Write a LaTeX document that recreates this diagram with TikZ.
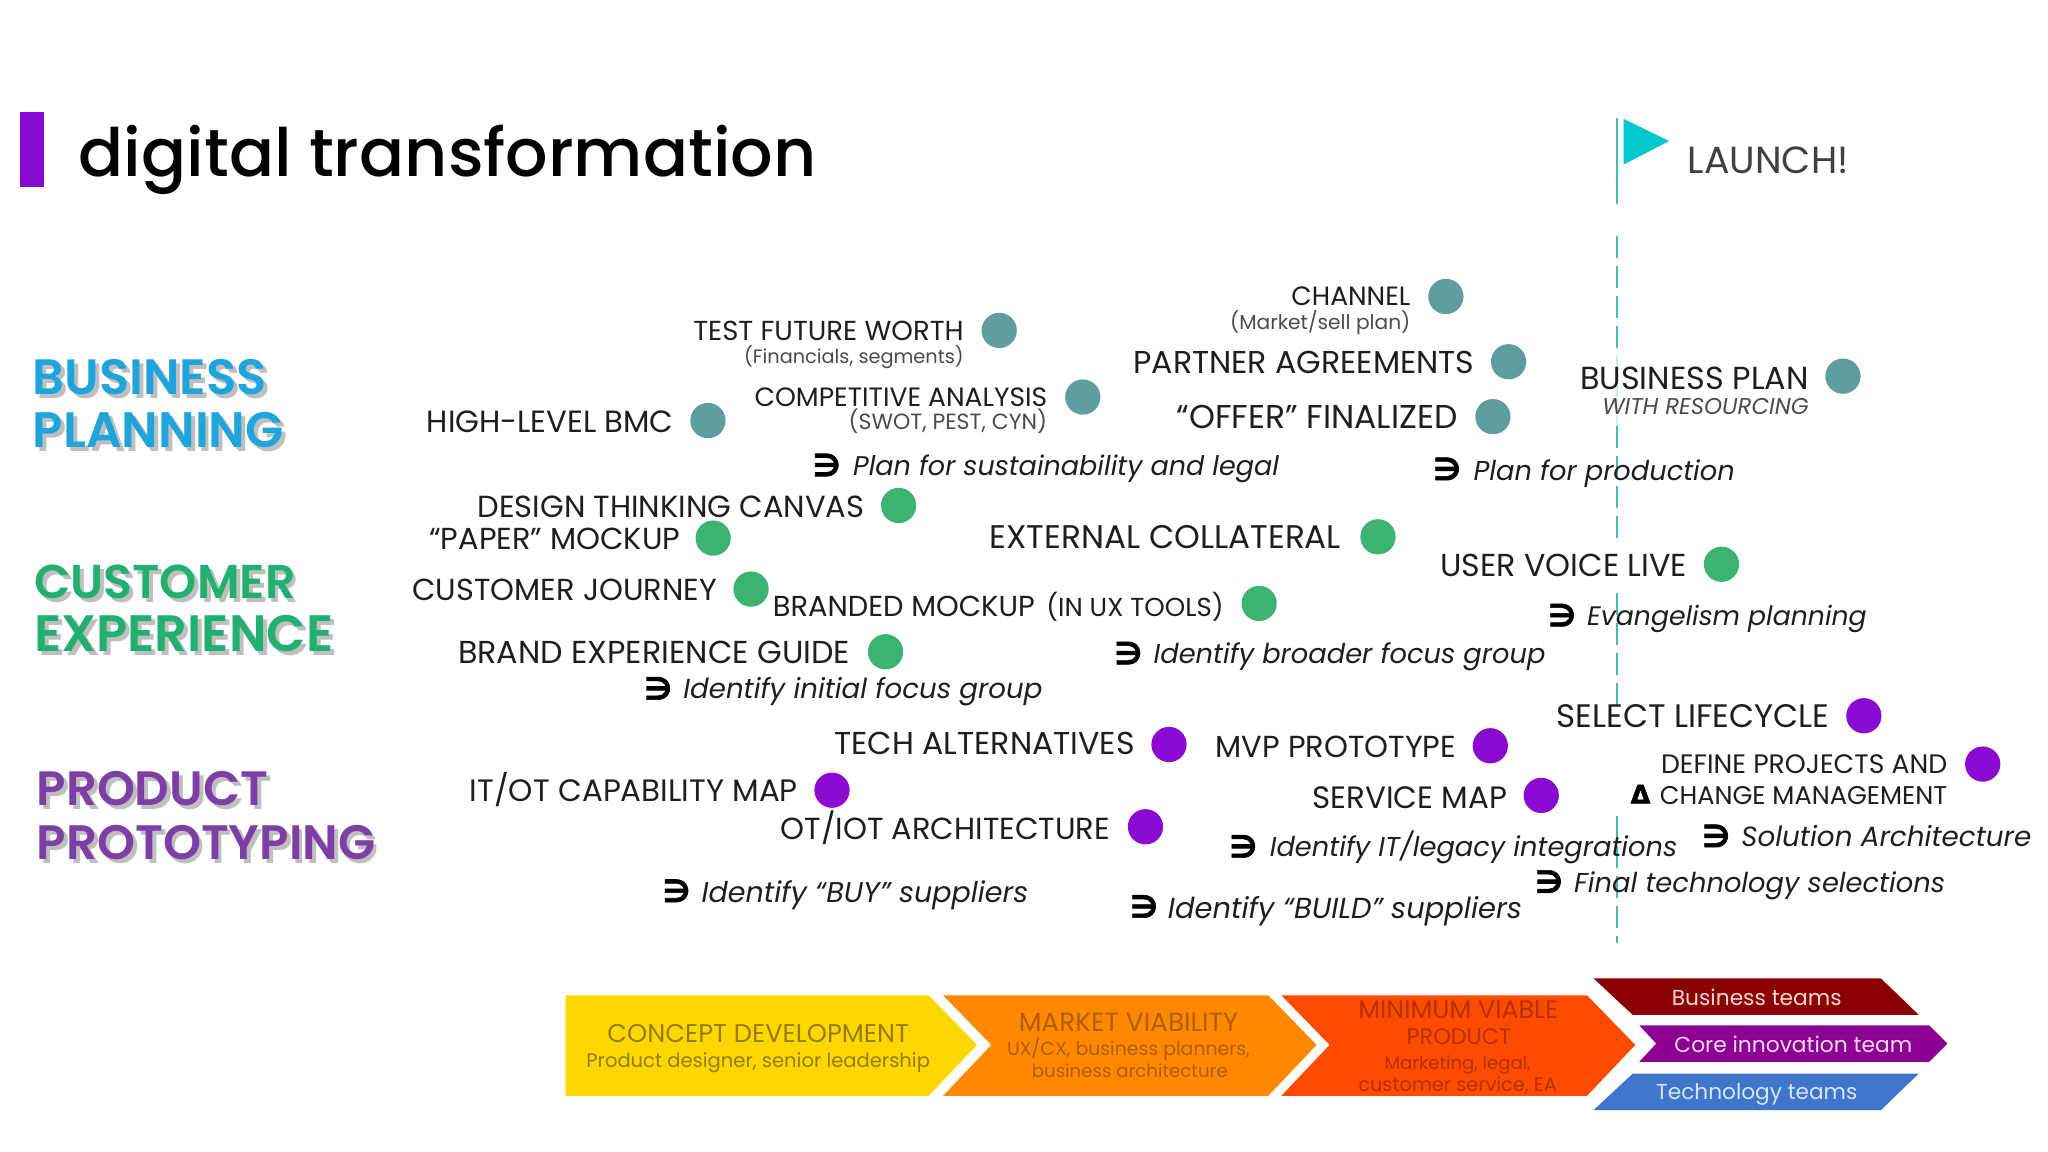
\documentclass[tikz,border=0pt]{standalone}
\usepackage{graphicx}
\usepackage{fontspec}
\setmainfont{Poppins}
\newfontfamily\medfont{Poppins Medium}
\newfontfamily\semifont{Poppins SemiBold}
\newfontfamily\symfont[FakeBold=2]{DejaVu Sans Bold}
\definecolor{tealdot}{HTML}{5F9EA0}
\definecolor{greendot}{HTML}{3CB371}
\definecolor{purpledot}{HTML}{8A0AD2}
\definecolor{blueh}{HTML}{1FA5DC}
\definecolor{greenh}{HTML}{22B070}
\definecolor{purpleh}{HTML}{7D3FA5}
\definecolor{linecol}{HTML}{3FBFB2}
\definecolor{flagcol}{HTML}{00C8CC}
\definecolor{ink}{HTML}{1E1E1E}
\definecolor{yel}{HTML}{FFD700}
\definecolor{ora}{HTML}{FF8800}
\definecolor{redo}{HTML}{FF4B00}
\definecolor{yeltxt}{HTML}{967D0A}
\definecolor{oratxt}{HTML}{AF5F00}
\definecolor{redtxt}{HTML}{B43200}
\definecolor{pbiz}{HTML}{8B0000}
\definecolor{pcore}{HTML}{8B0090}
\definecolor{ptech}{HTML}{3F76CC}
\definecolor{tbiz}{HTML}{F5D7D7}
\definecolor{tcore}{HTML}{F5D7F5}
\definecolor{ttech}{HTML}{D7E6FA}
\newlength{\pxu}\setlength{\pxu}{0.97959pt}
% fit text to a width measured in reference units
\newcommand{\fitw}[2]{\resizebox{#1\pxu}{!}{#2}}
\tikzset{
  dot/.style={circle,inner sep=0pt,minimum size=27\pxu,draw=none},
  lab/.style={inner sep=0pt,anchor=base east,text=ink,yshift=-1pt},
  sublab/.style={inner sep=0pt,anchor=base east,text=ink!80,yshift=-1pt},
  act/.style={inner sep=0pt,anchor=base west,text=ink,font=\itshape,yshift=-1pt},
  bul/.style={inner sep=0pt,anchor=center,text=black,font=\symfont\fontsize{23}{23}\selectfont},
  head/.style={inner sep=0pt,anchor=base west,font=\semifont},
  shade/.style={inner sep=0pt,anchor=base west,font=\semifont,text=black,opacity=.25},
  chevtxt/.style={inner sep=0pt,anchor=base,yshift=-1pt},
  dashline/.style={linecol,line width=1.5pt,dash pattern=on 16.5pt off 6pt},
}
\begin{document}
\begin{tikzpicture}[x=0.97959pt,y=-0.97959pt]
\useasboundingbox (0,0) rectangle (1568,882);
\fill[white] (0,0) rectangle (1568,882);
% launch line
\coordinate (poletop) at (1238,90);
\coordinate (polebot) at (1238,156);
\coordinate (l1) at (1238,181);
\coordinate (l2) at (1238,272);
\coordinate (l3) at (1238,326);
\coordinate (l4) at (1238,416);
\coordinate (l5) at (1238,454);
\coordinate (l6) at (1238,540);
\coordinate (l7) at (1238,625);
\coordinate (l8) at (1238,722);
\draw[linecol,line width=1.5pt] (poletop) -- (polebot);
\draw[dashline] (l1) -- (l2);
\draw[dashline,opacity=.25] (l2) -- (l3);
\draw[dashline] (l3) -- (l4);
\draw[dashline] (l5) -- (l6);
\draw[dashline] (l7) -- (l8);
% title
\fill[purpledot] (15,86) rectangle (34,143);
\node[inner sep=0pt,anchor=base west,text=black,font=\medfont] (title) at (60,135) {\fitw{565}{digital transformation}};
% flag
\fill[flagcol] (1243,91) -- (1278,108) -- (1243,126) -- cycle;
\node[inner sep=0pt,anchor=base west,text=ink!85] (launch) at (1292,133) {\fitw{123}{LAUNCH!}};
% headings
\node[shade] (h1s) at (28,305) {\fitw{179}{BUSINESS}};
\node[shade] (h2s) at (28,346) {\fitw{192}{PLANNING}};
\node[shade] (h3s) at (29,461) {\fitw{200}{CUSTOMER}};
\node[shade] (h4s) at (29,502) {\fitw{229}{EXPERIENCE}};
\node[shade] (h5s) at (31,620) {\fitw{177}{PRODUCT}};
\node[shade] (h6s) at (31,661) {\fitw{259}{PROTOTYPING}};
\node[head,text=blueh] (h1) at (25,302) {\fitw{179}{BUSINESS}};
\node[head,text=blueh] (h2) at (25,343) {\fitw{192}{PLANNING}};
\node[head,text=greenh] (h3) at (26,458) {\fitw{200}{CUSTOMER}};
\node[head,text=greenh] (h4) at (26,499) {\fitw{229}{EXPERIENCE}};
\node[head,text=purpleh] (h5) at (28,617) {\fitw{177}{PRODUCT}};
\node[head,text=purpleh] (h6) at (28,658) {\fitw{259}{PROTOTYPING}};
% business planning
\node[dot,fill=tealdot] (d1) at (765,253) {};
\node[lab] (t1) at (738,260) {\fitw{207}{TEST FUTURE WORTH}};
\node[sublab] (s1) at (738,277) {\fitw{168}{(Financials, segments)}};
\node[dot,fill=tealdot] (d2) at (542,322) {};
\node[lab] (t2) at (516,330) {\fitw{189}{HIGH-LEVEL BMC}};
\node[dot,fill=tealdot] (d3) at (829,304) {};
\node[lab] (t3) at (802,310) {\fitw{224}{COMPETITIVE ANALYSIS}};
\node[sublab] (s3) at (802,328) {\fitw{152}{(SWOT, PEST, CYN)}};
\node[dot,fill=tealdot] (d4) at (1107,227) {};
\node[lab] (t4) at (1080,233) {\fitw{91}{CHANNEL}};
\node[sublab] (s4) at (1080,251) {\fitw{138}{(Market/sell plan)}};
\node[dot,fill=tealdot] (d5) at (1155,277) {};
\node[lab] (t5) at (1129,285) {\fitw{261}{PARTNER AGREEMENTS}};
\node[dot,fill=tealdot] (d6) at (1143,319) {};
\node[lab] (t6) at (1116,327) {\fitw{215}{“OFFER” FINALIZED}};
\node[dot,fill=tealdot] (d7) at (1411,288) {};
\node[lab] (t7) at (1385,297) {\fitw{175}{BUSINESS PLAN}};
\node[sublab,font=\itshape] (s7) at (1385,316) {\fitw{158}{WITH RESOURCING}};
\node[bul] (b1) at (633,356) {∋};
\node[act] (a1) at (653,363) {\fitw{326}{Plan for sustainability and legal}};
\node[bul] (b2) at (1108,359) {∋};
\node[act] (a2) at (1128,367) {\fitw{200}{Plan for production}};
% customer experience
\node[dot,fill=greendot] (d8) at (688,387) {};
\node[lab] (t8) at (662,395) {\fitw{296}{DESIGN THINKING CANVAS}};
\node[dot,fill=greendot] (d9) at (546,412) {};
\node[lab] (t9) at (521,420) {\fitw{192}{“PAPER” MOCKUP}};
\node[dot,fill=greendot] (d10) at (575,451) {};
\node[lab] (t10) at (549,459) {\fitw{233}{CUSTOMER JOURNEY}};
\node[dot,fill=greendot] (d11) at (678,499) {};
\node[lab] (t11) at (651,507) {\fitw{300}{BRAND EXPERIENCE GUIDE}};
\node[dot,fill=greendot] (d12) at (1055,411) {};
\node[lab] (t12) at (1027,419) {\fitw{269}{EXTERNAL COLLATERAL}};
\node[dot,fill=greendot] (d13) at (964,462) {};
\node[lab] (t13) at (937,471) {\fitw{345}{BRANDED MOCKUP\hspace{0.4em}{\small (IN UX TOOLS)}}};
\node[dot,fill=greendot] (d14) at (1318,432) {};
\node[lab] (t14) at (1292,440) {\fitw{189}{USER VOICE LIVE}};
\node[bul] (b3) at (1196,471) {∋};
\node[act] (a3) at (1215,478) {\fitw{214}{Evangelism planning}};
\node[bul] (b4) at (864,500) {∋};
\node[act] (a4) at (883,507) {\fitw{300}{Identify broader focus group}};
\node[bul] (b5) at (504,527) {∋};
\node[act] (a5) at (523,534) {\fitw{275}{Identify initial focus group}};
% product prototyping
\node[dot,fill=purpledot] (d15) at (895,570) {};
\node[lab] (t15) at (869,577) {\fitw{230}{TECH ALTERNATIVES}};
\node[dot,fill=purpledot] (d16) at (637,605) {};
\node[lab] (t16) at (611,613) {\fitw{251}{IT/OT CAPABILITY MAP}};
\node[dot,fill=purpledot] (d17) at (877,633) {};
\node[lab] (t17) at (850,642) {\fitw{252}{OT/IOT ARCHITECTURE}};
\node[dot,fill=purpledot] (d18) at (1141,571) {};
\node[lab] (t18) at (1115,579) {\fitw{184}{MVP PROTOTYPE}};
\node[dot,fill=purpledot] (d19) at (1180,609) {};
\node[lab] (t19) at (1154,618) {\fitw{149}{SERVICE MAP}};
\node[dot,fill=purpledot] (d20) at (1427,548) {};
\node[lab] (t20) at (1401,556) {\fitw{209}{SELECT LIFECYCLE}};
\node[dot,fill=purpledot] (d21) at (1518,585) {};
\node[lab] (t21) at (1491,591) {\fitw{219}{DEFINE PROJECTS AND}};
\node[lab] (t22) at (1491,615) {\fitw{220}{CHANGE MANAGEMENT}};
\node[bul,font=\symfont\fontsize{19}{19}\selectfont] (b6) at (1256,608) {Δ};
\node[bul] (b7) at (1314,640) {∋};
\node[act] (a7) at (1333,647) {\fitw{222}{Solution Architecture}};
\node[bul] (b8) at (952,648) {∋};
\node[act] (a8) at (972,655) {\fitw{312}{Identify IT/legacy integrations}};
\node[bul] (b9) at (1186,675) {∋};
\node[act] (a9) at (1205,682) {\fitw{284}{Final technology selections}};
\node[bul] (b10) at (518,682) {∋};
\node[act] (a10) at (537,690) {\fitw{250}{Identify “BUY” suppliers}};
\node[bul] (b11) at (876,694) {∋};
\node[act] (a11) at (894,702) {\fitw{271}{Identify “BUILD” suppliers}};
% phase chevrons
\fill[yel] (433,762) -- (711,762) -- (748,800) -- (711,839) -- (433,839) -- cycle;
\fill[ora] (722,762) -- (971,762) -- (1008,800) -- (971,839) -- (722,839) -- (759,800) -- cycle;
\fill[redo] (981,762) -- (1215,762) -- (1252,800) -- (1215,839) -- (981,839) -- (1018,800) -- cycle;
\node[chevtxt,text=yeltxt] (c1) at (580.5,797) {\fitw{231}{CONCEPT DEVELOPMENT}};
\node[chevtxt,text=yeltxt] (c2) at (580.5,816) {\fitw{263}{Product designer, senior leadership}};
\node[chevtxt,text=oratxt] (c3) at (864,789) {\fitw{168}{MARKET VIABILITY}};
\node[chevtxt,text=oratxt] (c4) at (864,807) {\fitw{186}{UX/CX, business planners,}};
\node[chevtxt,text=oratxt] (c5) at (865,824) {\fitw{150}{business architecture}};
\node[chevtxt,text=redtxt] (c6) at (1116.5,779) {\fitw{153}{MINIMUM VIABLE}};
\node[chevtxt,text=redtxt] (c7) at (1117,799) {\fitw{80}{PRODUCT}};
\node[chevtxt,text=redtxt] (c8) at (1116,818) {\fitw{112}{Marketing, legal,}};
\node[chevtxt,text=redtxt] (c9) at (1116,835) {\fitw{152}{customer service, EA}};
% team pennants
\fill[pbiz] (1220,749) -- (1440,749) -- (1469,777) -- (1250,777) -- cycle;
\fill[pcore] (1255,785) -- (1477,785) -- (1491,799) -- (1477,813) -- (1255,813) -- (1268,799) -- cycle;
\fill[ptech] (1250,822) -- (1469,822) -- (1440,850) -- (1220,850) -- cycle;
\node[chevtxt,text=tbiz] (p1) at (1345,769) {\fitw{130}{Business teams}};
\node[chevtxt,text=tcore] (p2) at (1373,805) {\fitw{182}{Core innovation team}};
\node[chevtxt,text=ttech] (p3) at (1345,841) {\fitw{154}{Technology teams}};
\end{tikzpicture}
\end{document}
